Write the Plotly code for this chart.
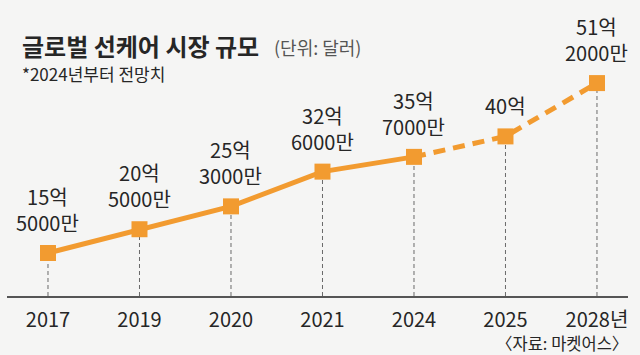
import plotly.graph_objects as go

years = ["2017", "2019", "2020", "2021", "2024", "2025", "2028년"]
values = [15.5, 20.5, 25.3, 32.6, 35.7, 40.0, 51.2]  # 억 달러
labels = ["15억<br>5000만", "20억<br>5000만", "25억<br>3000만", "32억<br>6000만",
          "35억<br>7000만", "40억", "51억<br>2000만"]
forecast_start = 4  # index of 2024

ORANGE = "#F29B30"
TEXT = "#262626"
FONT = "Noto Sans CJK KR"
BG = "#F5F5F4"

W, H = 640, 355
ML, MR, MT, MB = 7, 12, 60, 59
Y0 = 6.47
Y1 = 56.05
idx = list(range(len(years)))

def px_x(p):
    return (p - ML) / (W - ML - MR)

def px_y(p):
    return 1 - (p - MT) / (H - MT - MB)

fig = go.Figure()

# dashed drop lines
dx, dy = [], []
for i, v in zip(idx, values):
    dx += [i, i, None]
    dy += [Y0, v, None]
fig.add_trace(go.Scatter(x=dx, y=dy, mode="lines",
                         line=dict(color="#6a6a6a", width=1, dash="4px,3px"),
                         hoverinfo="skip", showlegend=False))

# solid part
fig.add_trace(go.Scatter(x=idx[:forecast_start + 1], y=values[:forecast_start + 1],
                         mode="lines", line=dict(color=ORANGE, width=5),
                         showlegend=False))
# forecast part
fig.add_trace(go.Scatter(x=idx[forecast_start:], y=values[forecast_start:],
                         mode="lines", line=dict(color=ORANGE, width=5, dash="12px,8px"),
                         showlegend=False))
# markers
fig.add_trace(go.Scatter(x=idx, y=values, mode="markers",
                         marker=dict(symbol="square", size=16, color=ORANGE),
                         showlegend=False))

annotations = []
for i, v, t in zip(idx, values, labels):
    annotations.append(dict(x=i, y=v, text=t, showarrow=False, yanchor="bottom",
                            xanchor="center", yshift=14,
                            font=dict(family=FONT, size=20, color=TEXT)))

annotations += [
    dict(xref="paper", yref="paper", x=px_x(20), y=px_y(46), xanchor="left", yanchor="middle",
         text="<b>글로벌 선케어 시장 규모</b>", showarrow=False,
         font=dict(family=FONT, size=24, color=TEXT)),
    dict(xref="paper", yref="paper", x=px_x(272), y=px_y(47), xanchor="left", yanchor="middle",
         text="(단위: 달러)", showarrow=False,
         font=dict(family=FONT, size=18, color="#555555")),
    dict(xref="paper", yref="paper", x=px_x(20), y=px_y(74), xanchor="left", yanchor="middle",
         text="*2024년부터 전망치", showarrow=False,
         font=dict(family=FONT, size=17, color=TEXT)),
    dict(xref="paper", yref="paper", x=px_x(630), y=px_y(343), xanchor="right", yanchor="middle",
         text="〈자료: 마켓어스〉", showarrow=False,
         font=dict(family=FONT, size=16.5, color=TEXT)),
]

fig.update_layout(
    width=W, height=H,
    margin=dict(l=ML, r=MR, t=MT, b=MB, pad=0),
    paper_bgcolor=BG, plot_bgcolor=BG,
    annotations=annotations,
    xaxis=dict(range=[-0.448, 6.339], tickmode="array", tickvals=idx, ticktext=years,
               showgrid=False, zeroline=False, showline=True, linecolor="#555555",
               linewidth=1.5, ticks="outside", ticklen=5, tickcolor="rgba(0,0,0,0)",
               tickfont=dict(family=FONT, size=20, color=TEXT), fixedrange=True),
    yaxis=dict(range=[Y0, Y1], visible=False, showgrid=False, zeroline=False,
               fixedrange=True),
    font=dict(family=FONT),
)

fig.write_html("out.html", config={"displayModeBar": False},
               post_script="document.body.style.margin='0';document.body.style.background='%s';" % BG)
